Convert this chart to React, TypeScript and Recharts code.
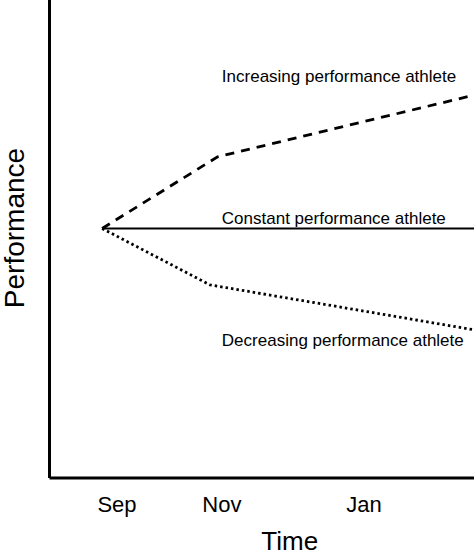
import { LineChart, Line, XAxis, YAxis, ReferenceDot } from 'recharts'

// time runs on an arbitrary 0..100 scale, performance on 0..100
const tickTimes = [15.9, 40.6, 74.1]
const tickLabels = ['Sep', 'Nov', 'Jan']

const increasingTime = [12.4, 39.6, 100]
const increasingPerf = [52.2, 67.2, 80.1]

const constantTime = [12.4, 100]
const constantPerf = [52.2, 52.2]

const decreasingTime = [12.4, 37.8, 100]
const decreasingPerf = [52.2, 40.4, 31.0]

const noteNames = [
  'Increasing performance athlete',
  'Constant performance athlete',
  'Decreasing performance athlete',
]
const noteTime = [40.6, 40.6, 40.6]
const notePerf = [84.1, 54.5, 28.9]

const zip = (t: number[], p: number[]) => t.map((time, i) => ({ time, perf: p[i] }))

const font = '"Liberation Sans", Arial, sans-serif'

function TimeLabel({ viewBox }: any) {
  const x = viewBox.x + viewBox.width / 2 + 28
  const y = viewBox.y + viewBox.height - 6
  return (
    <text x={x} y={y} textAnchor="middle" fontSize={26} fontFamily={font} fill="#000">
      Time
    </text>
  )
}

function PerfLabel({ viewBox }: any) {
  const x = viewBox.x + 14
  const y = viewBox.y + viewBox.height / 2 - 11
  return (
    <text
      x={x}
      y={y}
      transform={`rotate(-90, ${x}, ${y})`}
      textAnchor="middle"
      dominantBaseline="central"
      fontSize={28}
      fontFamily={font}
      fill="#000"
    >
      Performance
    </text>
  )
}

export default function App() {
  return (
    <div style={{ position: 'absolute', left: 0, top: 0, background: '#fff' }}>
      <LineChart width={474} height={556} margin={{ top: 0, right: 0, bottom: 0, left: 0 }}>
        <XAxis
          dataKey="time"
          type="number"
          domain={[0, 100]}
          ticks={tickTimes}
          tickFormatter={(v: number) => tickLabels[tickTimes.indexOf(v)]}
          tickLine={false}
          tickMargin={12}
          height={78}
          axisLine={{ stroke: '#000', strokeWidth: 3 }}
          tick={{ fill: '#000', fontSize: 22, fontFamily: font }}
          label={<TimeLabel />}
          allowDataOverflow
        />
        <YAxis
          type="number"
          domain={[0, 100]}
          width={49.5}
          tick={false}
          tickLine={false}
          axisLine={{ stroke: '#000', strokeWidth: 3 }}
          label={<PerfLabel />}
          allowDataOverflow
        />
        <Line
          data={zip(increasingTime, increasingPerf)}
          dataKey="perf"
          type="linear"
          stroke="#000"
          strokeWidth={2.8}
          strokeDasharray="9 7"
          dot={false}
          activeDot={false}
          isAnimationActive={false}
        />
        <Line
          data={zip(constantTime, constantPerf)}
          dataKey="perf"
          type="linear"
          stroke="#000"
          strokeWidth={2}
          dot={false}
          activeDot={false}
          isAnimationActive={false}
        />
        <Line
          data={zip(decreasingTime, decreasingPerf)}
          dataKey="perf"
          type="linear"
          stroke="#000"
          strokeWidth={2.8}
          strokeDasharray="2.5 3"
          dot={false}
          activeDot={false}
          isAnimationActive={false}
        />
        {noteNames.map((name, i) => (
          <ReferenceDot
            key={name}
            x={noteTime[i]}
            y={notePerf[i]}
            r={0}
            fill="none"
            stroke="none"
            label={{
              value: name,
              position: 'right',
              offset: 0,
              fill: '#000',
              fontSize: 17,
              fontFamily: font,
            }}
          />
        ))}
      </LineChart>
    </div>
  )
}
